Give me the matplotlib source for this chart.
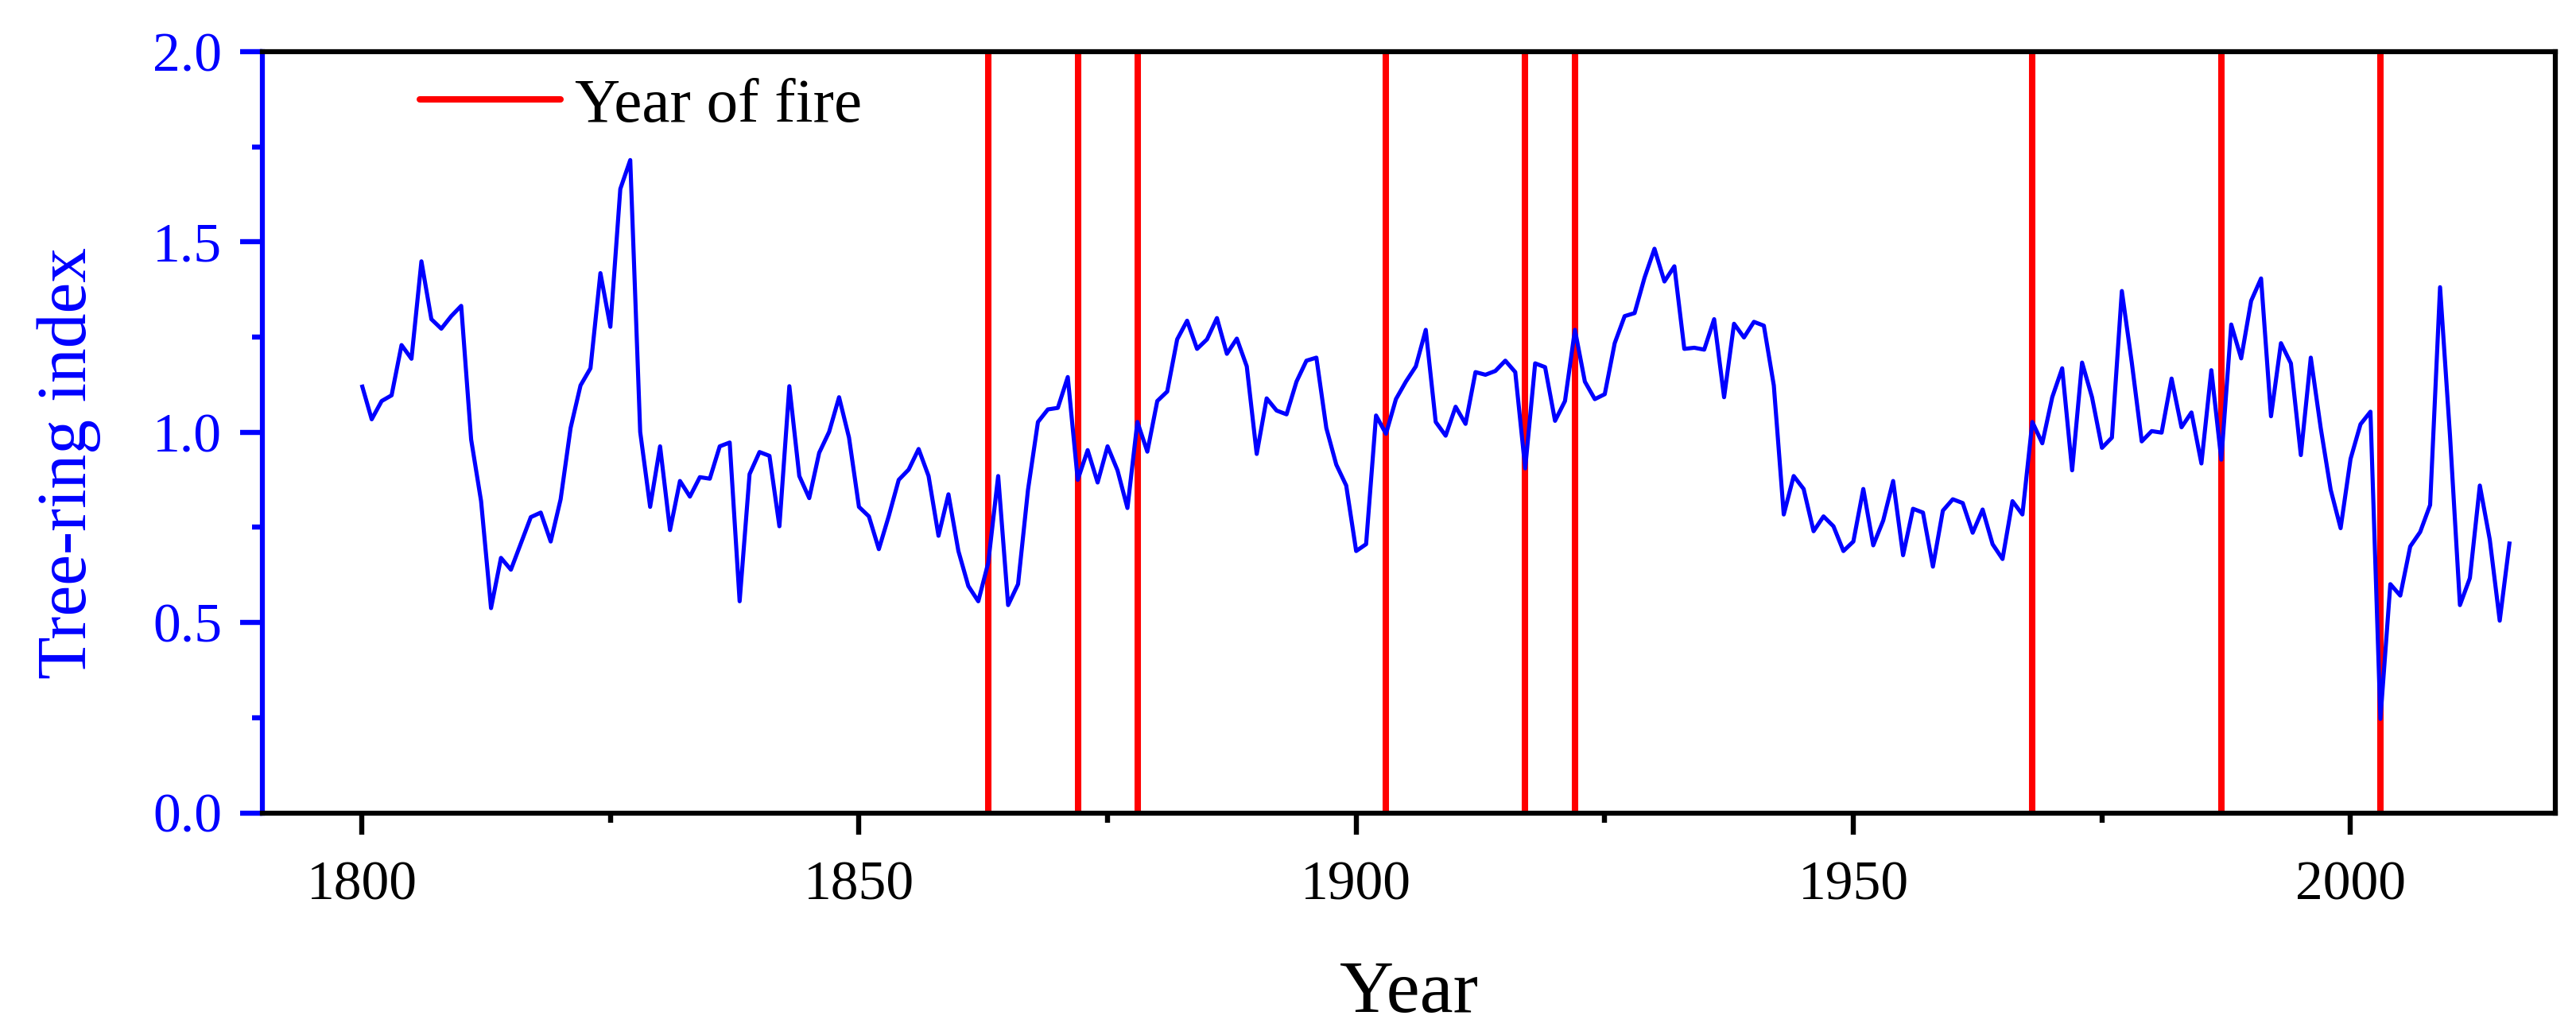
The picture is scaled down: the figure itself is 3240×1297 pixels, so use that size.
import matplotlib

matplotlib.use("Agg")
import matplotlib.pyplot as plt
import numpy as np
from matplotlib.ticker import FormatStrFormatter, MultipleLocator

# tree-ring index, one value per year 1800-2016
first_year = 1800
ring_index = [
    1.125, 1.034, 1.082, 1.097, 1.229, 1.193, 1.449, 1.297, 1.272, 1.305,
    1.332, 0.981, 0.819, 0.538, 0.670, 0.639, 0.708, 0.777, 0.789, 0.713,
    0.824, 1.011, 1.123, 1.168, 1.418, 1.277, 1.639, 1.715, 1.001, 0.804,
    0.963, 0.743, 0.872, 0.831, 0.882, 0.878, 0.963, 0.973, 0.556, 0.890,
    0.948, 0.938, 0.753, 1.121, 0.885, 0.827, 0.946, 1.001, 1.092, 0.986,
    0.804, 0.779, 0.693, 0.780, 0.875, 0.902, 0.956, 0.885, 0.728, 0.837,
    0.688, 0.596, 0.556, 0.657, 0.885, 0.546, 0.601, 0.849, 1.027, 1.060,
    1.064, 1.145, 0.875, 0.953, 0.868, 0.963, 0.900, 0.801, 1.027, 0.949,
    1.082, 1.107, 1.244, 1.293, 1.219, 1.244, 1.300, 1.206, 1.246, 1.173,
    0.943, 1.089, 1.057, 1.047, 1.133, 1.188, 1.196, 1.011, 0.915, 0.860,
    0.688, 0.706, 1.044, 0.996, 1.087, 1.133, 1.173, 1.269, 1.027, 0.991,
    1.067, 1.022, 1.158, 1.151, 1.161, 1.188, 1.158, 0.905, 1.181, 1.171,
    1.030, 1.082, 1.269, 1.133, 1.087, 1.100, 1.234, 1.305, 1.313, 1.406,
    1.482, 1.396, 1.436, 1.219, 1.222, 1.217, 1.297, 1.092, 1.285, 1.249,
    1.290, 1.280, 1.123, 0.784, 0.885, 0.851, 0.740, 0.779, 0.753, 0.688,
    0.713, 0.851, 0.703, 0.768, 0.872, 0.677, 0.799, 0.789, 0.647, 0.794,
    0.824, 0.814, 0.736, 0.797, 0.706, 0.667, 0.819, 0.784, 1.027, 0.971,
    1.092, 1.168, 0.900, 1.183, 1.092, 0.959, 0.986, 1.371, 1.183, 0.976,
    1.003, 0.999, 1.141, 1.013, 1.052, 0.918, 1.163, 0.928, 1.283, 1.194,
    1.345, 1.404, 1.042, 1.234, 1.181, 0.940, 1.196, 1.011, 0.849, 0.748,
    0.930, 1.021, 1.054, 0.247, 0.601, 0.571, 0.700, 0.738, 0.809, 1.381,
    0.991, 0.546, 0.617, 0.860, 0.718, 0.505, 0.713,
]
fire_years = [1863, 1872, 1878, 1903, 1917, 1922, 1968, 1987, 2003]

years = np.arange(first_year, first_year + len(ring_index))

plt.rcParams["font.family"] = ["Liberation Serif", "DejaVu Serif"]

fig = plt.figure(figsize=(32.41, 12.97), dpi=100)
ax = fig.add_axes([0.1018, 0.2115, 0.8899, 0.7385])

for i, yr in enumerate(fire_years):
    ax.axvline(yr, color="#ff0000", lw=5.8, zorder=1, solid_capstyle="round",
               label="Year of fire" if i == 0 else None)
ax.plot(years, ring_index, color="#0000ff", lw=3.7, zorder=2,
        solid_joinstyle="round", solid_capstyle="butt")

ax.set_xlim(1790, 2020.6)
ax.set_ylim(0, 2.0)
ax.xaxis.set_major_locator(MultipleLocator(50))
ax.xaxis.set_minor_locator(MultipleLocator(25))
ax.yaxis.set_major_locator(MultipleLocator(0.5))
ax.yaxis.set_minor_locator(MultipleLocator(0.25))
ax.yaxis.set_major_formatter(FormatStrFormatter("%.1f"))

for side in ["top", "right", "bottom"]:
    ax.spines[side].set_linewidth(4.5)
    ax.spines[side].set_color("black")
ax.spines["left"].set_linewidth(4.5)
ax.spines["left"].set_color("#0000ff")

ax.tick_params(axis="x", which="major", direction="out", length=19.5, width=4.6,
               labelsize=50, pad=24, colors="black")
ax.tick_params(axis="x", which="minor", direction="out", length=8.6, width=4.6)
ax.tick_params(axis="y", which="major", direction="out", length=20.5, width=4.6,
               labelsize=50, pad=16, colors="#0000ff")
ax.tick_params(axis="y", which="minor", direction="out", length=9.5, width=4.6,
               colors="#0000ff")

ax.set_xlabel("Year", fontsize=68, labelpad=44)
ax.set_ylabel("Tree-ring index", fontsize=63, color="#0000ff", labelpad=47, y=0.46)

ax.legend(loc="upper left", bbox_to_anchor=(0.0687, 0.966), frameon=False,
          fontsize=57, handlelength=2.24, handletextpad=0.22,
          borderpad=0, borderaxespad=0)

fig.savefig("out.png", dpi=100)
